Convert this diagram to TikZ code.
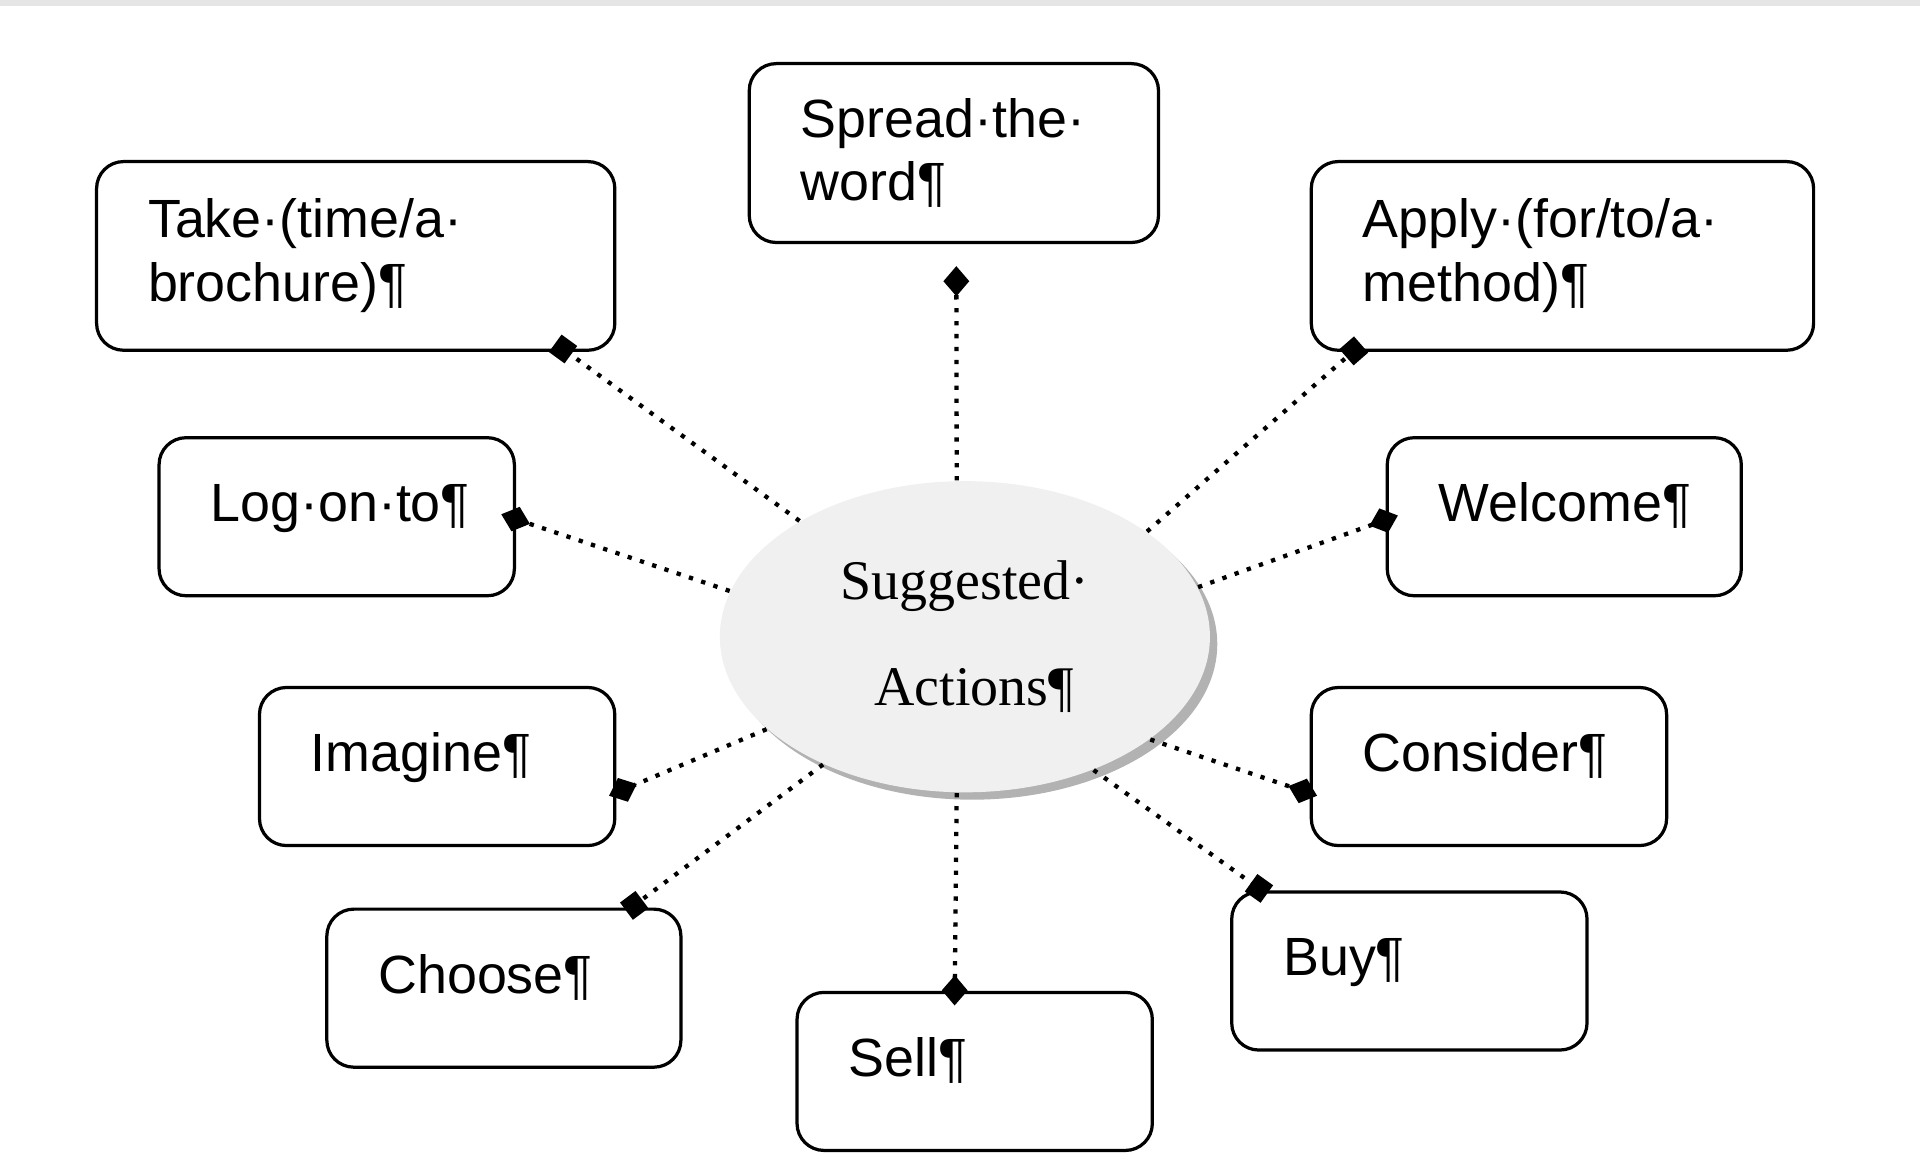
\documentclass[tikz,border=0pt]{standalone}
\usepackage{fontspec}
\setmainfont{Liberation Sans}
\newfontfamily\serifx{Liberation Serif}
\usetikzlibrary{arrows.meta,shadows,calc,shapes.geometric}
\tikzset{
 box/.style={draw,line width=0.75pt,rounded corners=2.2mm,align=left,font=\fontsize{12.5}{14.8}\selectfont,inner xsep=4.2mm},
 sbox/.style={box,minimum height=12.9mm,text height=4.4mm,text depth=3.6mm},
 conn/.style={dotted,line width=1pt},
 dtip/.style={conn,-{Diamond[length=7pt,width=6pt]}},
 stip/.style={conn,-{Square[length=4.5pt,width=5pt]}}
}
\begin{document}
\begin{tikzpicture}[x=0.01cm,y=-0.01cm]
\useasboundingbox (0,0) rectangle (1568,952);
\fill[gray!20] (0,0) rectangle (1568,5);
\node[box,minimum width=33.4mm,minimum height=14.6mm,text width=25mm] (spread) at (779,125) {Spread·the·\\word¶};
\node[box,minimum width=42.3mm,minimum height=15.4mm,text width=33.9mm] (take) at (290.5,209) {Take·(time/a·\\brochure)¶};
\node[box,minimum width=41mm,minimum height=15.4mm,text width=32.6mm] (apply) at (1276,209) {Apply·(for/to/a·\\method)¶};
\node[sbox,minimum width=29mm,text width=20.6mm] (log) at (275,422) {Log·on·to¶};
\node[sbox,minimum width=28.9mm,text width=20.5mm] (welcome) at (1277.5,422) {Welcome¶};
\node[sbox,minimum width=29mm,text width=20.6mm] (imagine) at (357,626) {Imagine¶};
\node[sbox,minimum width=29mm,text width=20.6mm] (consider) at (1216,626) {Consider¶};
\node[sbox,minimum width=28.9mm,text width=20.5mm] (choose) at (411.5,807) {Choose¶};
\node[sbox,minimum width=29mm,text width=20.6mm] (buy) at (1151,793) {Buy¶};
\node[sbox,minimum width=29mm,text width=20.6mm] (sell) at (796,875) {Sell¶};
\node[ellipse,fill=gray!12,minimum width=40mm,minimum height=25.4mm,inner sep=0pt,
 drop shadow={shadow xshift=0.6mm,shadow yshift=-0.6mm,fill=gray!60,opacity=1},
 align=center,font=\serifx\fontsize{13}{24.5}\selectfont] (E) at (788,520) {Suggested·\\\hspace*{1.5mm}Actions¶};
\draw[dtip] (E.93) -- ($(spread.south)+(2,18)$);
\draw[stip] (E.145) -- ($(take.south east)+(-50,-7)$);
\draw[stip] (E.30) -- ($(apply.south west)+(42,-6)$);
\draw[dtip] (E.169) -- ($(log.east)+(-12,-2)$);
\draw[dtip] (E.12) -- ($(welcome.west)+(10,-1)$);
\draw[dtip] (E.205) -- ($(imagine.south east)+(-6,-42)$);
\draw[dtip] (E.331) -- ($(consider.south west)+(6,-42)$);
\draw[stip] (E.222) -- ($(choose.north west)+(246,3)$);
\draw[stip] (E.314) -- ($(buy.north west)+(30,3)$);
\draw[dtip] (E.267) -- ($(sell.north west)+(130,12)$);
\end{tikzpicture}
\end{document}
